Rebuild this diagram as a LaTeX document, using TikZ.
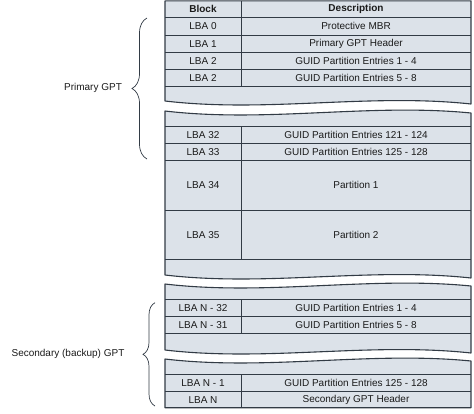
\documentclass[tikz,border=0pt]{standalone}
\usepackage{fontspec}
\setmainfont{Liberation Sans}
\usetikzlibrary{decorations.pathreplacing}
\definecolor{cellfill}{HTML}{DCE2E9}
\definecolor{edge}{HTML}{323B45}
\definecolor{ink}{HTML}{1A1A1A}
\tikzset{
  seg/.style={fill=cellfill,draw=edge,line width=1.1pt,line join=round},
  rule/.style={draw=edge,line width=1pt},
  cell/.style={inner sep=0pt,anchor=center,text=ink,font=\fontsize{10}{12}\selectfont},
  headcell/.style={cell,font=\fontsize{10}{12}\selectfont\bfseries},
  bracestyle/.style={draw=edge,line width=0.7pt,decorate,decoration={brace,amplitude=#1}},
  label/.style={inner sep=0pt,anchor=center,text=ink,font=\fontsize{10}{12}\selectfont}
}
\begin{document}
\begin{tikzpicture}[x=1pt,y=-1pt]
\useasboundingbox (0,0) rectangle (474,413);
% segment 1
\path[seg] (165,0.8) -- (471,0.8) -- (471,104) .. controls (369,93) and (267,113) .. (165,101) -- cycle;
\foreach \yy in {17.3,35,52.3,69.3,86.7} \draw[rule] (165,\yy) -- (471,\yy);
\draw[rule] (241,0.8) -- (241,86.7);
% segment 2
\path[seg] (165,111) .. controls (267,123) and (369,103) .. (471,113) -- (471,278) .. controls (369,267) and (267,287) .. (165,275) -- cycle;
\foreach \yy in {126.7,143.3,160.7,210,259.3} \draw[rule] (165,\yy) -- (471,\yy);
\draw[rule] (241,126.7) -- (241,259.3);
% segment 3
\path[seg] (165,284) .. controls (267,296) and (369,276) .. (471,286) -- (471,353) .. controls (369,342) and (267,362) .. (165,350) -- cycle;
\foreach \yy in {299.3,316.7,333.3} \draw[rule] (165,\yy) -- (471,\yy);
\draw[rule] (241,299.3) -- (241,333.3);
% segment 4
\path[seg] (165,359) .. controls (267,371) and (369,351) .. (471,361) -- (471,407.7) -- (165,407.7) -- cycle;
\foreach \yy in {374.3,391.7} \draw[rule] (165,\yy) -- (471,\yy);
\draw[rule] (241,374.3) -- (241,407.7);
% header
\node[headcell] (hblock) at (203,9) {Block};
\node[headcell] (hdesc) at (356,9) {Description};
% rows
\node[cell] (b0) at (203,26.2) {LBA 0};
\node[cell] (d0) at (356,26.2) {Protective MBR};
\node[cell] (b1) at (203,43.7) {LBA 1};
\node[cell] (d1) at (356,43.7) {Primary GPT Header};
\node[cell] (b2) at (203,60.8) {LBA 2};
\node[cell] (d2) at (356,60.8) {GUID Partition Entries 1 - 4};
\node[cell] (b3) at (203,78) {LBA 2};
\node[cell] (d3) at (356,78) {GUID Partition Entries 5 - 8};
\node[cell] (b32) at (203,135) {LBA 32};
\node[cell] (d32) at (356,135) {GUID Partition Entries 121 - 124};
\node[cell] (b33) at (203,152) {LBA 33};
\node[cell] (d33) at (356,152) {GUID Partition Entries 125 - 128};
\node[cell] (b34) at (203,185.3) {LBA 34};
\node[cell] (d34) at (356,185.3) {Partition 1};
\node[cell] (b35) at (203,234.7) {LBA 35};
\node[cell] (d35) at (356,234.7) {Partition 2};
\node[cell] (bn32) at (203,308) {LBA N - 32};
\node[cell] (dn32) at (356,308) {GUID Partition Entries 1 - 4};
\node[cell] (bn31) at (203,325) {LBA N - 31};
\node[cell] (dn31) at (356,325) {GUID Partition Entries 5 - 8};
\node[cell] (bn1) at (203,383) {LBA N - 1};
\node[cell] (dn1) at (356,383) {GUID Partition Entries 125 - 128};
\node[cell] (bn) at (203,399.7) {LBA N};
\node[cell] (dn) at (356,399.7) {Secondary GPT Header};
% braces
\coordinate (p1top) at (147,18);
\coordinate (p1bot) at (147,159);
\draw[bracestyle=15pt] (p1bot) -- (p1top);
\node[label] (primary) at (93,88) {Primary GPT};
\coordinate (s1top) at (155,302.7);
\coordinate (s1bot) at (155,406);
\draw[bracestyle=12pt] (s1bot) -- (s1top);
\node[label] (secondary) at (68,354) {Secondary (backup) GPT};
\end{tikzpicture}
\end{document}
